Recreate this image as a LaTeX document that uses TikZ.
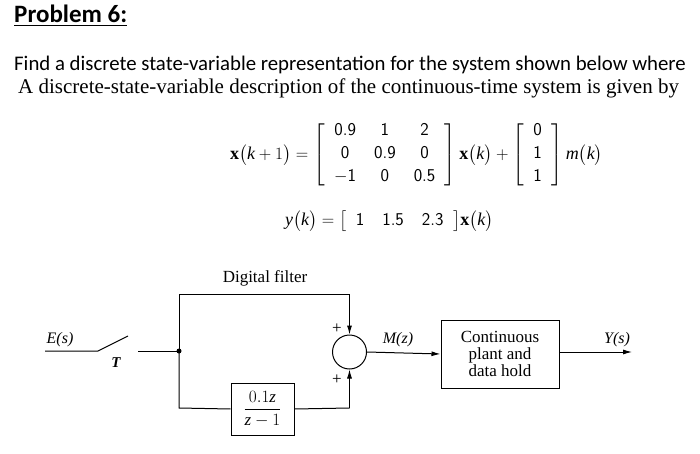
\documentclass[tikz,border=0pt]{standalone}
\usepackage{fontspec}
\usepackage{amsmath}
\setmainfont{Liberation Serif}
\newfontfamily\carlitofont{Carlito}
\usetikzlibrary{arrows.meta}
\begin{document}
\begin{tikzpicture}[x=1pt,y=-1pt,
  lab/.style={inner sep=0pt,font=\fontsize{17}{19}\selectfont},
  ilab/.style={inner sep=0pt,font=\itshape\fontsize{16}{18}\selectfont},
  blk/.style={draw,line width=1pt},
  ln/.style={line width=1pt},
  arr/.style={ln,-{Latex[length=9pt,width=5pt]}}]
\useasboundingbox (0,0) rectangle (700,454);
\node[anchor=west,inner sep=0pt,font=\carlitofont\bfseries\fontsize{25}{27}\selectfont] (title) at (14,16) {\underline{Problem 6:}};
\node[anchor=west,inner sep=0pt,font=\carlitofont\fontsize{20.8}{24}\selectfont] (l1) at (14,65) {Find a discrete state-variable representation for the system shown below where};
\node[anchor=west,inner sep=0pt,font=\fontsize{21}{24}\selectfont] (l2) at (18,88) {A discrete-state-variable description of the continuous-time system is given by};
\node[anchor=west,inner sep=0pt,font=\fontsize{18}{20}\selectfont] (eq1) at (230,155) {$\mathbf{x}\bigl(\mathit{k}+1\bigr)=\left[\begin{array}{@{\;\;}c@{\quad}c@{\quad}c@{\;\;}}\mathsf{0.9}&\mathsf{1}&\mathsf{2}\\[3pt] \mathsf{0}&\mathsf{0.9}&\mathsf{0}\\[3pt] -\mathsf{1}&\mathsf{0}&\mathsf{0.5}\end{array}\right]\mathbf{x}\bigl(\mathit{k}\bigr)+\left[\begin{array}{@{\;\;}c@{\;\;}}\mathsf{0}\\[3pt]\mathsf{1}\\[3pt]\mathsf{1}\end{array}\right]\mathit{m}\bigl(\mathit{k}\bigr)$};
\node[anchor=west,inner sep=0pt,font=\fontsize{18}{20}\selectfont] (eq2) at (285,221) {$\mathit{y}\bigl(\mathit{k}\bigr)=\bigl[\;\;\mathsf{1}\quad\mathsf{1.5}\quad\mathsf{2.3}\;\;\bigr]\mathbf{x}\bigl(\mathit{k}\bigr)$};
% diagram
\node[lab] (df) at (265,278) {Digital filter};
\node[ilab] (es) at (60,340) {E(s)};
\node[ilab,font=\itshape\bfseries\fontsize{15}{17}\selectfont] (T) at (116,363) {T};
\coordinate (s0) at (45,351);
\coordinate (s1) at (98,351);
\coordinate (s2) at (128,336);
\coordinate (s3) at (138,351);
\coordinate (j) at (179,351);
\draw[ln] (s0)--(s1)--(s2);
\draw[ln] (s3)--(j);
\fill (j) circle (2.5pt);
\node[draw,circle,line width=1pt,minimum size=34pt,inner sep=0pt] (sum) at (349.5,352) {};
\node[blk,minimum width=63pt,minimum height=52pt,inner sep=0pt,font=\fontsize{17}{19}\selectfont] (flt) at (262.5,409) {$\dfrac{0.1\mathit{z}}{\mathit{z}-1}$};
\coordinate (tl) at (179,294);
\coordinate (tr) at (349.5,294);
\coordinate (bl) at (179,408);
\coordinate (br) at (349.5,408);
\draw[ln] (j)--(tl)--(tr);
\draw[arr] (tr)--(sum.north);
\draw[ln] (j)--(bl)--(flt.west);
\draw[ln] (flt.east)--(br);
\draw[arr] (br)--(sum.south);
\node[lab] (p1) at (337,329) {+};
\node[lab] (p2) at (337,380) {+};
\node[ilab] (mz) at (398,340) {M(z)};
\node[blk,minimum width=118pt,minimum height=68pt,align=center,inner sep=0pt,font=\fontsize{17}{17}\selectfont] (pl) at (500,354) {Continuous\\plant and\\data hold};
\draw[arr] (sum.east)--(pl.west);
\coordinate (out) at (632,352);
\draw[arr] (pl.east|-sum.east)--(out);
\node[ilab] (ys) at (617,340) {Y(s)};
\end{tikzpicture}
\end{document}
